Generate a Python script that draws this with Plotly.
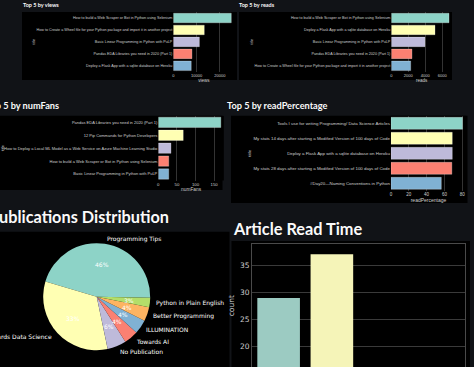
import math
import plotly.graph_objects as go

W, H = 474, 367

# ---------------- data ----------------
views_titles = [
    "How to build a Web Scraper or Bot in Python using Selenium",
    "How to Create a Wheel file for your Python package and import it in another project",
    "Basic Linear Programming in Python with PuLP",
    "Pandas EDA Libraries you need in 2020 (Part 1)",
    "Deploy a Flask App with a sqlite database on Heroku",
]
views_values = [24900, 13300, 11200, 8000, 7700]

reads_titles = [
    "How to build a Web Scraper or Bot in Python using Selenium",
    "Deploy a Flask App with a sqlite database on Heroku",
    "Basic Linear Programming in Python with PuLP",
    "Pandas EDA Libraries you need in 2020 (Part 1)",
    "How to Create a Wheel file for your Python package and import it in another project",
]
reads_values = [6790, 5140, 3960, 2430, 2280]

fans_titles = [
    "Pandas EDA Libraries you need in 2020 (Part 1)",
    "12 Pip Commands for Python Developers",
    "How to Deploy a Local ML Model as a Web Service on Azure Machine Learning Studio",
    "How to build a Web Scraper or Bot in Python using Selenium",
    "Basic Linear Programming in Python with PuLP",
]
fans_values = [168, 67, 34, 28, 28]

pct_titles = [
    "Tools I use for writing Programming/ Data Science Articles",
    "My stats 14 days after starting a Modified Version of 100 days of Code",
    "Deploy a Flask App with a sqlite database on Heroku",
    "My stats 28 days after starting a Modified Version of 100 days of Code",
    "#Day20\u2014Naming Conventions in Python",
]
pct_values = [80.3, 68.8, 68.8, 68.3, 56.5]

pub_labels = ["Programming Tips", "Towards Data Science", "No Publication", "Towards AI",
              "ILLUMINATION", "Better Programming", "Python in Plain English"]
pub_counts = [32, 23, 4, 3, 3, 3, 2]

readtime_labels = ["0-5 min", "5-10 min", "10-15 min", "15+ min"]
readtime_counts = [29, 37, 3, 1]

SET3 = ["#8dd3c7", "#ffffb3", "#bebada", "#fb8072", "#80b1d3", "#fdb462", "#b3de69"]
SET3_MUTED = ["#9ccbc2", "#f5f4b8", "#c2bfd8", "#ea8b80"]

PAGE_BG = "#111317"
BOX_BG = "#000000"
GRID = "#333333"
TICK = "#cfcfcf"
SANS = "Liberation Sans"
MPL = "DejaVu Sans"
HEAD = "Lato"


def xd(a, b):
    return [a / W, b / W]


def yd(top, bottom):
    return [1 - bottom / H, 1 - top / H]


fig = go.Figure()

# ---------------- horizontal bar charts ----------------
bar_specs = [
    (views_titles, views_values, "", (173.3, 234.3), (12, 71.8), 26200, 10000, "views", 3.7, 4.0),
    (reads_titles, reads_values, "2", (391.3, 451.9), (12, 71.8), 7130, 2000, "reads", 3.7, 4.0),
    (fans_titles, fans_values, "3", (158.3, 223.8), (115.9, 180.5), 176, 50, "numFans", 4.0, 4.3),
    (pct_titles, pct_values, "4", (390.9, 466.1), (115.8, 190.8), 84.3, 20, "readPercentage", 4.4, 4.5),
]

for titles, values, s, xdom, ydom, rmax, dt, xt, yfs, xfs in bar_specs:
    fig.add_trace(go.Bar(
        x=values, y=titles, orientation="h",
        marker=dict(color=SET3[:5], line=dict(color="rgba(255,255,255,0.45)", width=0.6)),
        xaxis="x" + s, yaxis="y" + s, showlegend=False, width=0.8,
    ))
    fig.layout["xaxis" + s] = dict(
        domain=xd(*xdom), anchor="y" + s, range=[0, rmax], dtick=dt, tickformat="d",
        showgrid=True, gridcolor=GRID, gridwidth=0.6, zeroline=False,
        tickfont=dict(family=SANS, size=xfs, color=TICK), ticks="",
        title=dict(text=xt, font=dict(family=SANS, size=xfs + 0.5, color=TICK), standoff=1),
    )
    fig.layout["yaxis" + s] = dict(
        domain=yd(*ydom), anchor="x" + s, autorange="reversed",
        showgrid=False, zeroline=False, ticks="",
        tickfont=dict(family=SANS, size=yfs, color=TICK),
        title=dict(text="title", font=dict(family=SANS, size=yfs, color=TICK), standoff=1),
    )

# ---------------- pie ----------------
cx, cy, R = 96.7, 296.7, 53.5
total = sum(pub_counts)
theta0 = -1.0  # start angle of first slice (degrees, math convention)
fig.add_trace(go.Pie(
    values=pub_counts, labels=pub_labels, sort=False, direction="counterclockwise",
    rotation=90 - theta0 - 360 * pub_counts[0] / total,
    marker=dict(colors=SET3[:len(pub_counts)], line=dict(width=0)),
    textinfo="none", showlegend=False,
    domain=dict(x=xd(cx - R, cx + R), y=yd(cy - R, cy + R)),
))

annotations = []
cum = 0
for lab, v in zip(pub_labels, pub_counts):
    mid = math.radians(theta0 + 360 * (cum + v / 2) / total)
    cum += v
    lx, ly = cx + 1.1 * R * math.cos(mid), cy - 1.1 * R * math.sin(mid)
    annotations.append(dict(
        x=lx / W, y=1 - ly / H, xref="paper", yref="paper", text=lab, showarrow=False,
        xanchor="left" if math.cos(mid) > 0 else "right", yanchor="middle", borderpad=0,
        font=dict(family=MPL, size=6.0, color="#ffffff"),
    ))
    px_, py_ = cx + 0.6 * R * math.cos(mid), cy - 0.6 * R * math.sin(mid)
    annotations.append(dict(
        x=px_ / W, y=1 - py_ / H, xref="paper", yref="paper",
        text=f"{round(100 * v / total)}%", showarrow=False,
        xanchor="center", yanchor="middle", borderpad=0,
        font=dict(family=MPL, size=6.0, color="#ffffff"),
    ))

# ---------------- read time bar ----------------
fig.add_trace(go.Bar(
    x=readtime_labels, y=readtime_counts, marker=dict(color=SET3_MUTED, line=dict(width=0)),
    xaxis="x6", yaxis="y6", showlegend=False, width=0.8,
))
fig.layout["xaxis6"] = dict(
    domain=xd(252, 465), anchor="y6", range=[-0.5, 3.5], showgrid=False, zeroline=False,
    showline=True, mirror=True, linecolor="#4a4a4a", linewidth=0.8, showticklabels=False,
)
fig.layout["yaxis6"] = dict(
    domain=yd(244.3, 367), anchor="x6", range=[16.3, 38.85], dtick=5,
    showgrid=True, gridcolor="#3a3a3a", gridwidth=0.8, zeroline=False,
    showline=True, mirror=True, linecolor="#4a4a4a", linewidth=0.8,
    tickfont=dict(family=MPL, size=7.5, color=TICK), ticks="",
    title=dict(text="count", font=dict(family=MPL, size=7.5, color=TICK), standoff=4),
)

# ---------------- boxes (figure backgrounds) ----------------
boxes = [(22, 12, 237, 80), (239, 12, 452, 80), (-5, 115.7, 222.5, 190),
         (231, 115.7, 467.5, 203), (-5, 231.7, 229.5, 372), (231.5, 241, 470, 372)]
shapes = []
for x0, y0, x1, y1 in boxes:
    shapes.append(dict(type="rect", xref="paper", yref="paper", layer="below",
                       x0=x0 / W, x1=x1 / W, y0=1 - y1 / H, y1=1 - y0 / H,
                       fillcolor=BOX_BG, line=dict(width=0)))

# ---------------- section titles ----------------
heads = [
    ("Top 5 by views", 22, 5.5, "left", 5.5),
    ("Top 5 by reads", 238, 5.5, "left", 5.5),
    ("Top 5 by numFans", 60, 105.7, "right", 9.2),
    ("Top 5 by readPercentage", 329, 105.7, "right", 9.2),
    ("Publications Distribution", 170, 216.7, "right", 16.3),
    ("Article Read Time", 232, 228.3, "left", 16.3),
]
for txt, x, y, anc, fs in heads:
    annotations.append(dict(
        x=x / W, y=1 - y / H, xref="paper", yref="paper", text=txt, showarrow=False,
        xanchor=anc, yanchor="middle", borderpad=0,
        font=dict(family=HEAD, size=fs, color="#fafafa", weight=700),
    ))

fig.update_layout(
    width=W, height=H, margin=dict(l=0, r=0, t=0, b=0),
    paper_bgcolor=PAGE_BG, plot_bgcolor=BOX_BG,
    shapes=shapes, annotations=annotations, bargap=0.2,
)

fig.write_html("out.html", config={"displayModeBar": False},
               post_script="document.body.style.margin='0px';")
